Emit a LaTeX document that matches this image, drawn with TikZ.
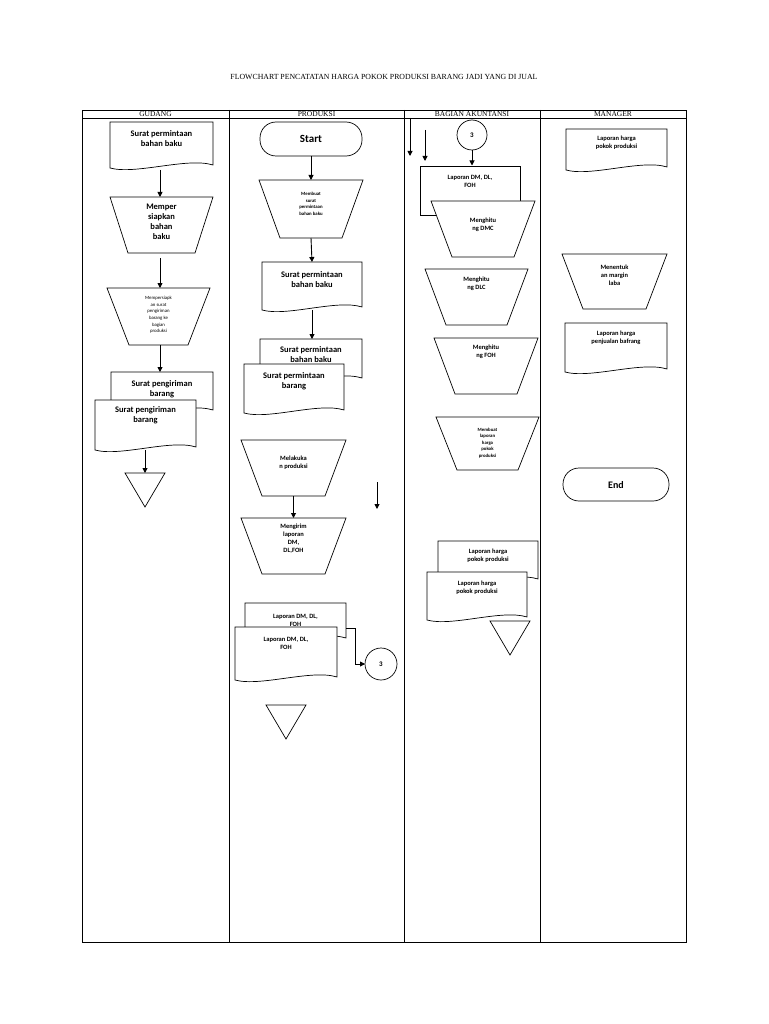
\documentclass[tikz,border=0pt]{standalone}
\usepackage{fontspec}
\setmainfont{Liberation Serif}
\newfontfamily\cf{Carlito}
\usetikzlibrary{arrows.meta}
\tikzset{x=1pt,y=-1pt,
 box/.style={draw=none,inner sep=0pt,outer sep=0pt},
 txt/.style={font=\cf\bfseries\fontsize{8.5}{10}\selectfont,align=center,inner sep=0pt},
 stxt/.style={font=\cf\bfseries\fontsize{6.5}{8}\selectfont,align=center,inner sep=0pt},
 ttxt/.style={font=\cf\fontsize{4.8}{6.6}\selectfont,align=center,inner sep=0pt},
 arr/.style={-{Triangle[length=5pt,width=5pt]},line width=0.9pt},
 shp/.style={draw,fill=white,line width=0.7pt},
 hdr/.style={font=\fontsize{7.5}{8}\selectfont,inner sep=0pt}}
% doc: name,x1,y1,x2,y2,style,text,texty
\newcommand\docsh[8]{%
 \path[shp] (#2,#3) -- (#4,#3) -- (#4,#5-5) .. controls ({0.25*#2+0.75*#4},{#5-13}) and ({0.75*#2+0.25*#4},{#5+5}) .. (#2,#5-2) -- cycle;
 \node[box,minimum width={#4-#2},minimum height={#5-#3-3}] (#1) at ({(#2+#4)/2},{(#3+#5-3)/2}) {};
 \node[#6] (#1-t) at ({(#2+#4)/2},#8) {#7};}
% trapezoid: name,x1,y1,x2,y2,inset,style,text,texty
\newcommand\trap[9]{%
 \path[shp] (#2,#3) -- (#4,#3) -- (#4-#6,#5) -- (#2+#6,#5) -- cycle;
 \node[box,minimum width={#4-#2},minimum height={#5-#3}] (#1) at ({(#2+#4)/2},{(#3+#5)/2}) {};
 \node[#7] (#1-t) at ({(#2+#4)/2},#9) {#8};}
\newcommand\tri[4]{% name,x1,x2,y
 \path[shp] (#2,#4) -- (#3,#4) -- ({(#2+#3)/2},#4+34) -- cycle;
 \node[box,minimum width={#3-#2},minimum height=34] (#1) at ({(#2+#3)/2},#4+17) {};}
\begin{document}
\begin{tikzpicture}
\useasboundingbox (0,0) rectangle (768,1024);
\fill[white] (0,0) rectangle (768,1024);
\node[font=\fontsize{7.8}{9}\selectfont,inner sep=0pt] (title) at (384,77) {FLOWCHART PENCATATAN HARGA POKOK PRODUKSI BARANG JADI YANG DI JUAL};
\draw[line width=0.8pt] (82,110) rectangle (686,942);
\draw[line width=0.6pt] (82,118) -- (686,118);
\foreach \xx in {229,404,540} \draw[line width=0.8pt] (\xx,110) -- (\xx,942);
\node[hdr] (h1) at (155.5,114) {GUDANG};
\node[hdr] (h2) at (316.5,114) {PRODUKSI};
\node[hdr] (h3) at (472,114) {BAGIAN AKUNTANSI};
\node[hdr] (h4) at (613,114) {MANAGER};
% GUDANG
\docsh{g1}{110}{122}{213}{170}{txt}{Surat permintaan\\bahan baku}{139}
\trap{g2}{110}{197}{213}{253}{18}{txt}{Memper\\siapkan\\bahan\\baku}{222}
\trap{g3}{107}{288}{210}{345}{22}{ttxt}{Mempersiapk\\an surat\\pengiriman\\barang ke\\bagian\\produksi}{315}
\docsh{g4}{111}{372}{213}{415}{txt}{Surat pengiriman\\barang}{389}
\docsh{g5}{95}{400}{196}{452}{txt}{Surat pengiriman\\barang}{415}
\tri{g6}{125}{165}{473}
\draw[arr] (g1.south -| 160,0) ++(0,3) -- (g2.north -| 160,0);
\draw[arr] (160,258) -- (g3.north -| 160,0);
\draw[arr] (160,345) -- (g4.north -| 160,0);
\draw[arr] (145,450) -- (g6.north);
% PRODUKSI
\path[shp,rounded corners=16pt] (260,122) rectangle (362,156);
\node[box,minimum width=102,minimum height=34,font=\cf\bfseries\fontsize{11}{12}\selectfont] (p0) at (311,139) {Start};
\trap{p1}{259}{180}{363}{238}{21}{ttxt}{\bfseries Membuat\\\bfseries surat\\\bfseries permintaan\\\bfseries bahan baku}{204}
\docsh{p2}{262}{262}{362}{312}{txt}{Surat permintaan\\bahan baku}{280}
\docsh{p3}{260}{339}{362}{383}{txt}{Surat permintaan\\bahan baku}{355}
\docsh{p4}{244}{364}{344}{415}{txt}{Surat permintaan\\barang}{381}
\trap{p5}{241}{440}{346}{496}{21}{stxt}{Melakuka\\n produksi}{463}
\trap{p6}{241}{518}{346}{574}{21}{stxt}{Mengirim\\laporan\\DM,\\DL,FOH}{539}
\docsh{p7}{245}{603}{346}{643}{stxt}{Laporan DM, DL,\\FOH}{620}
\docsh{p8}{235}{627}{337}{682}{stxt}{Laporan DM, DL,\\FOH}{643}
\tri{p9}{266}{306}{705}
\draw[shp] (381,664) circle (16);
\node[box,minimum size=32,font=\cf\bfseries\fontsize{7}{8}\selectfont] (c1) at (381,664) {3};
\draw[arr] (p0.south) -- (p1.north);
\draw[arr] (p1.south) -- (p2.north);
\draw[arr] (312,310) -- (p3.north -| 312,0);
\draw[arr] (p5.south) -- (p6.north);
\draw[line width=0.9pt] (346,628) -- (355,628) -- (355,664);
\draw[arr] (355,664) -- (c1.west);
\coordinate (fa1) at (377,482); \coordinate (fb1) at (377,509);
\draw[arr] (fa1) -- (fb1);
% AKUNTANSI
\coordinate (fa2) at (410,118); \coordinate (fb2) at (410,156);
\coordinate (fa3) at (425,130); \coordinate (fb3) at (425,161);
\draw[arr] (fa2) -- (fb2);
\draw[arr] (fa3) -- (fb3);
\draw[shp] (472,135) circle (15);
\node[box,minimum size=30,font=\cf\bfseries\fontsize{7}{8}\selectfont] (c2) at (472,135) {3};
\path[shp] (420,166) rectangle (520,215);
\node[box,minimum width=100,minimum height=49] (a1) at (470,190) {};
\node[stxt] (a1-t) at (470,181) {Laporan DM, DL,\\FOH};
\draw[arr] (c2.south) -- (a1.north -| c2.south);
\trap{a2}{431}{201}{535}{257}{21}{stxt}{Menghitu\\ng DMC}{225}
\trap{a3}{425}{269}{528}{325}{21}{stxt}{Menghitu\\ng DLC}{284}
\trap{a4}{434}{338}{538}{394}{21}{stxt}{Menghitu\\ng FOH}{352}
\trap{a5}{436}{417}{539}{470}{21}{ttxt}{\bfseries Membuat\\\bfseries laporan\\\bfseries harga\\\bfseries pokok\\\bfseries produksi}{443}
\docsh{a6}{438}{541}{538}{584}{stxt}{Laporan harga\\pokok produksi}{556}
\docsh{a7}{427}{572}{527}{622}{stxt}{Laporan harga\\pokok produksi}{588}
\tri{a8}{490}{530}{621}
% MANAGER
\docsh{m1}{566}{129}{667}{172}{stxt}{Laporan harga\\pokok produksi}{143}
\trap{m2}{562}{254}{667}{309}{21}{stxt}{Menentuk\\an margin\\laba}{275}
\docsh{m3}{565}{323}{667}{374}{stxt}{Laporan harga\\penjualan bafrang}{338}
\path[shp,rounded corners=16pt] (563,468) rectangle (669,501);
\node[box,minimum width=106,minimum height=33,font=\cf\bfseries\fontsize{10}{12}\selectfont] (m4) at (616,485) {End};
\end{tikzpicture}
\end{document}
